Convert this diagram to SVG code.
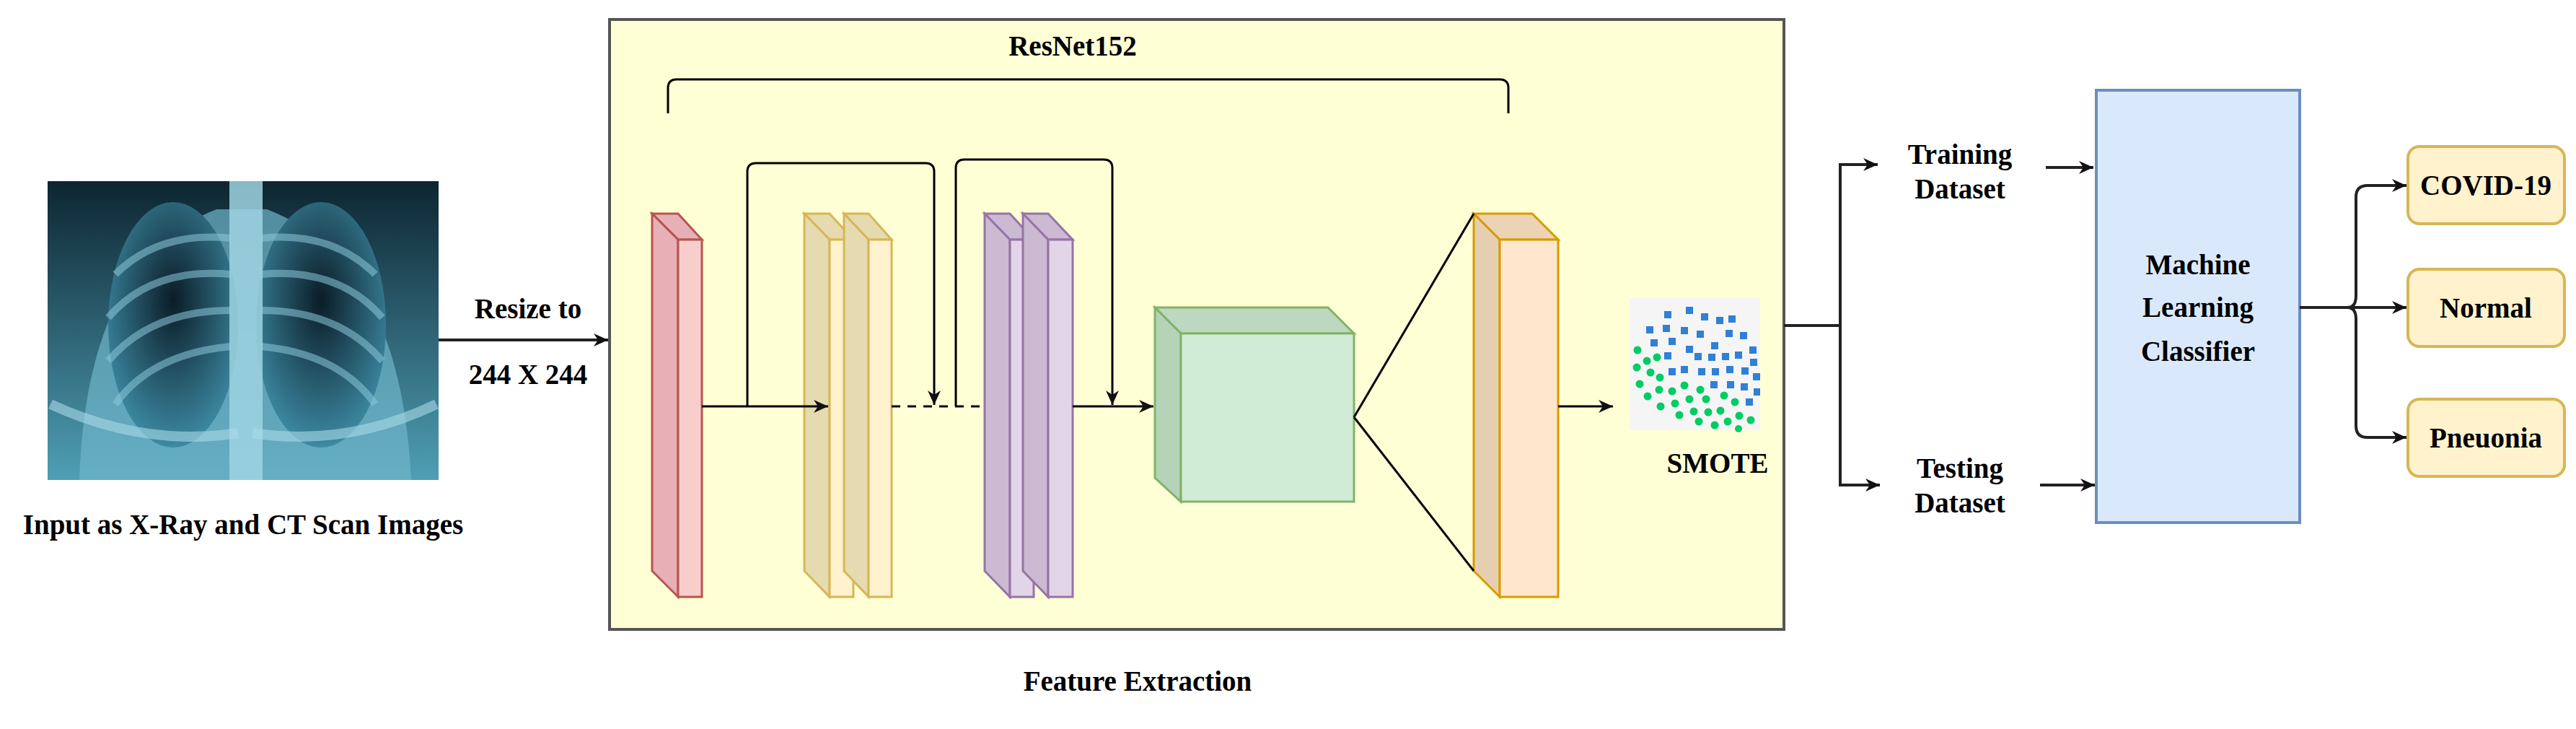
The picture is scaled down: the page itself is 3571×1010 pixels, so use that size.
<svg xmlns="http://www.w3.org/2000/svg" width="3571" height="1010" viewBox="0 0 3571 1010">
<defs>
<style>
text{font-family:"Liberation Serif","Times New Roman",serif;font-weight:bold;fill:#000;text-anchor:middle}
.t{font-size:39px}
.ln{fill:none;stroke:#000;stroke-width:3}
.cn{fill:none;stroke:#222;stroke-width:4}
.bs{fill:#2f80d6}
.gs{fill:#00cc66}
.rib{fill:none;stroke:#8cc9da;stroke-width:10;opacity:0.55}
</style>
<marker id="a" viewBox="0 0 22 22" refX="20" refY="11" markerWidth="22" markerHeight="22" orient="auto" markerUnits="userSpaceOnUse">
<path d="M0,2 L20,11 L0,20 L6,11 Z" fill="#111"/>
</marker>
<linearGradient id="xr" x1="0" y1="0" x2="0" y2="1">
<stop offset="0" stop-color="#0d2531"/><stop offset="1" stop-color="#4f9fb5"/>
</linearGradient>
<radialGradient id="lung" cx="0.5" cy="0.4" r="0.6">
<stop offset="0" stop-color="#0a1c27"/><stop offset="1" stop-color="#3d8aa3"/>
</radialGradient>
</defs>
<rect width="3571" height="1010" fill="#fff"/>

<g id="xray">
<rect x="66" y="251" width="542" height="414" fill="url(#xr)"/>
<path d="M110,665 Q120,360 300,290 L370,290 Q555,360 570,665 Z" fill="#6fb5c9" opacity="0.7"/>
<ellipse cx="240" cy="450" rx="90" ry="170" fill="url(#lung)"/>
<ellipse cx="445" cy="450" rx="90" ry="170" fill="url(#lung)"/>
<path class="rib" d="M320,330 Q220,320 160,380 M320,380 Q210,370 150,440 M320,430 Q210,430 150,500 M320,480 Q210,490 160,560 M362,330 Q460,320 520,380 M362,380 Q470,370 530,440 M362,430 Q470,430 530,500 M362,480 Q470,490 520,560"/>
<rect x="318" y="251" width="46" height="414" fill="#9fd4e2" opacity="0.85"/>
<path d="M70,560 Q200,620 330,600 M350,600 Q480,620 605,560" stroke="#a9dbe8" stroke-width="14" fill="none" opacity="0.6"/>
<text class="t" x="337" y="740">Input as X-Ray and CT Scan Images</text>
</g>

<g id="resize">
<text class="t" x="732" y="441">Resize to</text>
<text class="t" x="732" y="532">244 X 244</text>
</g>

<g id="featurebox">
<rect x="845" y="27" width="1628" height="845" fill="#ffffd6" stroke="#555" stroke-width="4"/>
<text class="t" x="1487" y="77">ResNet152</text>
<text class="t" x="1577" y="957">Feature Extraction</text>
</g>

<g id="layer-red">
<polygon points="904,296 940,296 973,332 940,332" fill="#e6b0b6" stroke="#b85450" stroke-width="3"/>
<polygon points="904,296 940,332 940,827 904,791" fill="#e6b0b6" stroke="#b85450" stroke-width="3"/>
<rect x="940" y="332" width="33" height="495" fill="#f8cecc" stroke="#b85450" stroke-width="3"/>
</g>
<g id="layer-yellow">
<polygon points="1115,296 1150,296 1183,332 1150,332" fill="#e6dbb0" stroke="#d6b656" stroke-width="3"/>
<polygon points="1115,296 1150,332 1150,827 1115,791" fill="#e6dbb0" stroke="#d6b656" stroke-width="3"/>
<rect x="1150" y="332" width="33" height="495" fill="#fff2cc" stroke="#d6b656" stroke-width="3"/>
<polygon points="1170,296 1204,296 1236,332 1204,332" fill="#e6dbb0" stroke="#d6b656" stroke-width="3"/>
<polygon points="1170,296 1204,332 1204,827 1170,791" fill="#e6dbb0" stroke="#d6b656" stroke-width="3"/>
<rect x="1204" y="332" width="32" height="495" fill="#fff2cc" stroke="#d6b656" stroke-width="3"/>
</g>
<g id="layer-purple">
<polygon points="1365,296 1400,296 1433,332 1400,332" fill="#cbbad2" stroke="#9673a6" stroke-width="3"/>
<polygon points="1365,296 1400,332 1400,827 1365,791" fill="#cbbad2" stroke="#9673a6" stroke-width="3"/>
<rect x="1400" y="332" width="33" height="495" fill="#e1d5e7" stroke="#9673a6" stroke-width="3"/>
<polygon points="1418,296 1453,296 1487,332 1453,332" fill="#cbbad2" stroke="#9673a6" stroke-width="3"/>
<polygon points="1418,296 1453,332 1453,827 1418,791" fill="#cbbad2" stroke="#9673a6" stroke-width="3"/>
<rect x="1453" y="332" width="34" height="495" fill="#e1d5e7" stroke="#9673a6" stroke-width="3"/>
</g>
<g id="layer-green">
<polygon points="1601,426 1841,426 1877,462 1637,462" fill="#bdd8c0" stroke="#82b366" stroke-width="3"/>
<polygon points="1601,426 1637,462 1637,695 1601,662" fill="#b5d3b9" stroke="#82b366" stroke-width="3"/>
<rect x="1637" y="462" width="240" height="233" fill="#d0ebd6" stroke="#82b366" stroke-width="3"/>
</g>
<g id="layer-orange">
<polygon points="2043,296 2124,296 2160,332 2079,332" fill="#ecd3b6" stroke="#d79b00" stroke-width="3"/>
<polygon points="2043,296 2079,332 2079,827 2043,791" fill="#e6ceb0" stroke="#d79b00" stroke-width="3"/>
<rect x="2079" y="332" width="81" height="495" fill="#ffe6cc" stroke="#d79b00" stroke-width="3"/>
</g>

<g id="smote">
<rect x="2259" y="413" width="181" height="183" fill="#f5f5f5"/>
<g class="bs">
<rect x="2307" y="431" width="10" height="10"/><rect x="2337" y="425" width="10" height="10"/><rect x="2358" y="434" width="10" height="10"/><rect x="2379" y="439" width="10" height="10"/><rect x="2396" y="437" width="10" height="10"/>
<rect x="2282" y="452" width="10" height="10"/><rect x="2305" y="450" width="10" height="10"/><rect x="2330" y="453" width="10" height="10"/><rect x="2352" y="458" width="10" height="10"/><rect x="2392" y="457" width="10" height="10"/><rect x="2412" y="460" width="10" height="10"/>
<rect x="2288" y="470" width="10" height="10"/><rect x="2313" y="468" width="10" height="10"/><rect x="2337" y="479" width="10" height="10"/><rect x="2372" y="474" width="10" height="10"/><rect x="2425" y="480" width="10" height="10"/>
<rect x="2307" y="488" width="10" height="10"/><rect x="2349" y="489" width="10" height="10"/><rect x="2368" y="490" width="10" height="10"/><rect x="2387" y="489" width="10" height="10"/><rect x="2405" y="487" width="10" height="10"/><rect x="2426" y="497" width="10" height="10"/>
<rect x="2313" y="510" width="10" height="10"/><rect x="2330" y="507" width="10" height="10"/><rect x="2354" y="510" width="10" height="10"/><rect x="2373" y="510" width="10" height="10"/><rect x="2393" y="507" width="10" height="10"/><rect x="2414" y="509" width="10" height="10"/><rect x="2430" y="517" width="10" height="10"/>
<rect x="2371" y="528" width="10" height="10"/><rect x="2394" y="528" width="10" height="10"/><rect x="2413" y="531" width="10" height="10"/><rect x="2431" y="538" width="9" height="10"/><rect x="2420" y="552" width="10" height="10"/>
</g>
<g class="gs">
<circle cx="2270" cy="485" r="5.5"/><circle cx="2283" cy="500" r="5.5"/><circle cx="2297" cy="495" r="5.5"/><circle cx="2269" cy="509" r="5.5"/><circle cx="2288" cy="516" r="5.5"/><circle cx="2301" cy="523" r="5.5"/>
<circle cx="2273" cy="532" r="5.5"/><circle cx="2300" cy="540" r="5.5"/><circle cx="2318" cy="542" r="5.5"/><circle cx="2335" cy="534" r="5.5"/><circle cx="2357" cy="540" r="5.5"/><circle cx="2284" cy="549" r="5.5"/>
<circle cx="2322" cy="559" r="5.5"/><circle cx="2342" cy="553" r="5.5"/><circle cx="2365" cy="553" r="5.5"/><circle cx="2390" cy="548" r="5.5"/><circle cx="2405" cy="557" r="5.5"/><circle cx="2302" cy="563" r="5.5"/>
<circle cx="2328" cy="575" r="5.5"/><circle cx="2348" cy="570" r="5.5"/><circle cx="2368" cy="571" r="5.5"/><circle cx="2385" cy="569" r="5.5"/><circle cx="2411" cy="576" r="5.5"/><circle cx="2427" cy="582" r="5.5"/>
<circle cx="2355" cy="584" r="5.5"/><circle cx="2377" cy="589" r="5.5"/><circle cx="2395" cy="584" r="5.5"/><circle cx="2410" cy="594" r="5"/>
</g>
<text class="t" x="2381" y="655">SMOTE</text>
</g>

<g id="datasets">
<text class="t" x="2717" y="227">Training</text>
<text class="t" x="2717" y="275">Dataset</text>
<text class="t" x="2717" y="662">Testing</text>
<text class="t" x="2717" y="710">Dataset</text>
</g>

<g id="classifier">
<rect x="2906" y="125" width="282" height="599" fill="#dae8fc" stroke="#6c8ebf" stroke-width="4"/>
<text class="t" x="3047" y="380">Machine</text>
<text class="t" x="3047" y="439">Learning</text>
<text class="t" x="3047" y="500">Classifier</text>
</g>

<g id="out-covid"><rect x="3338" y="203" width="217" height="107" rx="16" fill="#fff2cc" stroke="#d6b656" stroke-width="4"/><text class="t" x="3446" y="270">COVID-19</text></g>
<g id="out-normal"><rect x="3338" y="373" width="217" height="107" rx="16" fill="#fff2cc" stroke="#d6b656" stroke-width="4"/><text class="t" x="3446" y="440">Normal</text></g>
<g id="out-pneu"><rect x="3338" y="553" width="217" height="107" rx="16" fill="#fff2cc" stroke="#d6b656" stroke-width="4"/><text class="t" x="3446" y="620">Pneuonia</text></g>

<g id="connectors">
<path class="cn" d="M608,471 H843" marker-end="url(#a)"/>
<path class="ln" d="M926,157 V122 Q926,110 938,110 H2079 Q2091,110 2091,122 V157"/>
<path class="ln" d="M973,563 H1148" marker-end="url(#a)"/>
<path class="ln" d="M1036,563 V238 Q1036,226 1048,226 H1283 Q1295,226 1295,238 V561" marker-end="url(#a)"/>
<path class="ln" d="M1236,563 H1362" stroke-dasharray="12,10"/>
<path class="ln" d="M1325,563 V233 Q1325,221 1337,221 H1530 Q1542,221 1542,233 V561" marker-end="url(#a)"/>
<path class="ln" d="M1487,563 H1599" marker-end="url(#a)"/>
<path class="ln" d="M1877,578 L2043,296 M1877,578 L2043,791"/>
<path class="ln" d="M2160,563 H2236" marker-end="url(#a)"/>
<path class="cn" d="M2473,451 H2553 M2551,451 V228 H2603" marker-end="url(#a)"/>
<path class="cn" d="M2551,451 V672 H2606" marker-end="url(#a)"/>
<path class="cn" d="M2836,232 H2902" marker-end="url(#a)"/>
<path class="cn" d="M2828,672 H2904" marker-end="url(#a)"/>
<path class="cn" d="M3188,426 H3262"/>
<path class="cn" d="M3254,426 Q3266,426 3266,410 V273 Q3266,257 3282,257 H3336" marker-end="url(#a)"/>
<path class="cn" d="M3254,426 H3336" marker-end="url(#a)"/>
<path class="cn" d="M3254,426 Q3266,426 3266,442 V590 Q3266,606 3282,606 H3336" marker-end="url(#a)"/>
</g>
</svg>
